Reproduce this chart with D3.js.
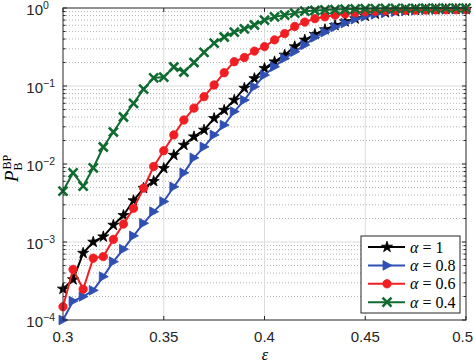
<!DOCTYPE html>
<html>
<head>
<meta charset="utf-8">
<script src="https://cdn.jsdelivr.net/npm/d3@7"></script>
<style>
  body { margin: 0; background: #fff; }
  svg { display: block; }
  .tick-label { font-family: "Liberation Sans", Arial, sans-serif; fill: #262626; }
  .tex { font-family: "Liberation Serif", "Times New Roman", serif; fill: #000; }
</style>
</head>
<body>
<div id="chart"></div>
<script>
// --- Data ---
const epsilon = [0.300, 0.305, 0.310, 0.315, 0.320, 0.325, 0.330, 0.335, 0.340, 0.345,
                 0.350, 0.355, 0.360, 0.365, 0.370, 0.375, 0.380, 0.385, 0.390, 0.395,
                 0.400, 0.405, 0.410, 0.415, 0.420, 0.425, 0.430, 0.435, 0.440, 0.445,
                 0.450, 0.455, 0.460, 0.465, 0.470, 0.475, 0.480, 0.485, 0.490, 0.495, 0.500];

const alpha1 = [2.5e-4, 3.3e-4, 7.2e-4, 1.0e-3, 1.17e-3, 1.65e-3, 2.2e-3, 3.4e-3, 4.9e-3, 6.0e-3,
                8.8e-3, 0.013, 0.0175, 0.0224, 0.0273, 0.0385, 0.049, 0.066, 0.094, 0.125,
                0.169, 0.205, 0.25, 0.32, 0.39, 0.46, 0.53, 0.60, 0.67, 0.73,
                0.79, 0.84, 0.875, 0.905, 0.925, 0.94, 0.95, 0.956, 0.96, 0.963, 0.965];

const alpha08 = [1.0e-4, 1.75e-4, 2.0e-4, 2.4e-4, 3.6e-4, 5.6e-4, 8.1e-4, 1.2e-3, 1.74e-3, 2.45e-3,
                 3.3e-3, 5.1e-3, 7.7e-3, 0.012, 0.0166, 0.0236, 0.0316, 0.047, 0.066, 0.098,
                 0.138, 0.177, 0.226, 0.275, 0.336, 0.42, 0.49, 0.57, 0.64, 0.72,
                 0.78, 0.83, 0.865, 0.895, 0.92, 0.935, 0.948, 0.956, 0.962, 0.967, 0.97];

const alpha06 = [1.48e-4, 4.46e-4, 2.48e-4, 6.2e-4, 6.5e-4, 1.08e-3, 1.7e-3, 2.7e-3, 4.9e-3, 9.3e-3,
                 0.0148, 0.0236, 0.0366, 0.052, 0.073, 0.103, 0.148, 0.205, 0.232, 0.28,
                 0.32, 0.39, 0.47, 0.58, 0.66, 0.73, 0.77, 0.81, 0.84, 0.87,
                 0.895, 0.91, 0.92, 0.928, 0.934, 0.938, 0.942, 0.945, 0.947, 0.949, 0.95];

const alpha04 = [4.5e-3, 7.7e-3, 5.2e-3, 8.9e-3, 0.0165, 0.0257, 0.040, 0.060, 0.091, 0.127,
                 0.130, 0.175, 0.151, 0.20, 0.27, 0.355, 0.425, 0.49, 0.54, 0.605,
                 0.70, 0.77, 0.81, 0.86, 0.91, 0.93, 0.945, 0.955, 0.965, 0.972,
                 0.978, 0.982, 0.985, 0.988, 0.99, 0.991, 0.992, 0.993, 0.994, 0.995, 0.995];

const xTicks = [0.3, 0.35, 0.4, 0.45, 0.5];
const xTickLabels = ['0.3', '0.35', '0.4', '0.45', '0.5'];
const yDecades = [1e-4, 1e-3, 1e-2, 1e-1, 1];
const yExponents = ['\u22124', '\u22123', '\u22122', '\u22121', '0'];

const series = [
    { label: '1',   values: alpha1,  color: '#000000', marker: 'star' },
    { label: '0.8', values: alpha08, color: '#2f4fb2', marker: 'triangle' },
    { label: '0.6', values: alpha06, color: '#f01e23', marker: 'circle' },
    { label: '0.4', values: alpha04, color: '#0f6b30', marker: 'cross' }
];

// --- Setup ---
const W = 474, H = 363;
const margin = { left: 63, right: 8, top: 8, bottom: 43 };
const iw = W - margin.left - margin.right;
const ih = H - margin.top - margin.bottom;

const svg = d3.select('#chart').append('svg').attr('width', W).attr('height', H);
const g = svg.append('g').attr('transform', `translate(${margin.left},${margin.top})`);

const x = d3.scaleLinear().domain([0.3, 0.5]).range([0, iw]);
const y = d3.scaleLog().domain([1e-4, 1]).range([ih, 0]);

// --- Grid ---
const minorY = [];
yDecades.slice(0, -1).forEach(d => { for (let k = 2; k <= 9; k++) minorY.push(d * k); });

g.append('g').selectAll('line').data(minorY).join('line')
    .attr('x1', 0).attr('x2', iw)
    .attr('y1', d => y(d)).attr('y2', d => y(d))
    .attr('stroke', '#b4b4b4').attr('stroke-width', 1).attr('stroke-dasharray', '1,2');

g.append('g').selectAll('line').data(yDecades.slice(1, -1)).join('line')
    .attr('x1', 0).attr('x2', iw)
    .attr('y1', d => y(d)).attr('y2', d => y(d))
    .attr('stroke', '#dcdcdc').attr('stroke-width', 1);

g.append('g').selectAll('line').data(xTicks.slice(1, -1)).join('line')
    .attr('x1', d => x(d)).attr('x2', d => x(d))
    .attr('y1', 0).attr('y2', ih)
    .attr('stroke', '#dcdcdc').attr('stroke-width', 1);

// --- Axes (ticks inward, box) ---
const axisColor = '#262626';
const ticks = g.append('g').attr('stroke', axisColor).attr('stroke-width', 1);
xTicks.forEach(t => {
    ticks.append('line').attr('x1', x(t)).attr('x2', x(t)).attr('y1', ih).attr('y2', ih - 4);
    ticks.append('line').attr('x1', x(t)).attr('x2', x(t)).attr('y1', 0).attr('y2', 4);
});
yDecades.forEach(t => {
    ticks.append('line').attr('x1', 0).attr('x2', 4).attr('y1', y(t)).attr('y2', y(t));
    ticks.append('line').attr('x1', iw).attr('x2', iw - 4).attr('y1', y(t)).attr('y2', y(t));
});
minorY.forEach(t => {
    ticks.append('line').attr('x1', 0).attr('x2', 2.5).attr('y1', y(t)).attr('y2', y(t));
    ticks.append('line').attr('x1', iw).attr('x2', iw - 2.5).attr('y1', y(t)).attr('y2', y(t));
});

// last label kept inside the window, like the reference's clipped "0.5"
g.selectAll('.xlab').data(xTicks).join('text')
    .attr('class', 'tick-label xlab')
    .attr('x', (d, i) => i === xTicks.length - 1 ? W - margin.left - 1 : x(d))
    .attr('y', ih + 22)
    .attr('text-anchor', (d, i) => i === xTicks.length - 1 ? 'end' : 'middle')
    .attr('font-size', 15)
    .text((d, i) => xTickLabels[i]);

g.selectAll('.ylab').data(yDecades).join('text')
    .attr('class', 'tick-label ylab')
    .attr('font-size', 15)
    .attr('x', -20).attr('y', d => y(d) + 7).attr('text-anchor', 'end')
    .text('10');
g.selectAll('.yexp').data(yDecades).join('text')
    .attr('class', 'tick-label yexp')
    .attr('font-size', 10.5)
    .attr('x', -20).attr('y', d => y(d) + 0.5)
    .text((d, i) => yExponents[i]);

// --- Markers ---
const starPath = d3.symbol().type(d3.symbolStar).size(38)();
const triPath = 'M-4,-4.8L5,0L-4,4.8Z';
function drawMarker(sel, type, color) {
    if (type === 'star') {
        sel.append('path').attr('d', starPath).attr('fill', color).attr('stroke', color).attr('stroke-width', 0.8);
    } else if (type === 'triangle') {
        sel.append('path').attr('d', triPath).attr('fill', color).attr('stroke', color).attr('stroke-width', 0.8);
    } else if (type === 'circle') {
        sel.append('circle').attr('r', 4.2).attr('fill', color).attr('stroke', color).attr('stroke-width', 0.8);
    } else {
        sel.append('path').attr('d', 'M-4.5,-4.5L4.5,4.5M-4.5,4.5L4.5,-4.5')
            .attr('fill', 'none').attr('stroke', color).attr('stroke-width', 2.6);
    }
}

// --- Series ---
const line = d3.line().x(d => x(d[0])).y(d => y(d[1]));
series.forEach(s => {
    const pts = epsilon.map((e, i) => [e, s.values[i]]);
    const sg = g.append('g');
    sg.append('path').datum(pts).attr('d', line)
        .attr('fill', 'none').attr('stroke', s.color).attr('stroke-width', 2)
        .attr('stroke-linejoin', 'round');
    sg.selectAll('.m').data(pts).join('g')
        .attr('class', 'm')
        .attr('transform', d => `translate(${x(d[0])},${y(d[1])})`)
        .each(function() { drawMarker(d3.select(this), s.marker, s.color); });
});

// box on top
g.append('rect').attr('x', 0).attr('y', 0).attr('width', iw).attr('height', ih)
    .attr('fill', 'none').attr('stroke', axisColor).attr('stroke-width', 1);

// --- Legend ---
const lg = svg.append('g').attr('transform', 'translate(361,236)');
lg.append('rect').attr('width', 99).attr('height', 77)
    .attr('fill', '#fff').attr('stroke', axisColor).attr('stroke-width', 1);
series.forEach((s, i) => {
    const row = lg.append('g').attr('transform', `translate(0,${11 + i * 18.4})`);
    row.append('line').attr('x1', 7).attr('x2', 44).attr('y1', 0).attr('y2', 0)
        .attr('stroke', s.color).attr('stroke-width', 2);
    const m = row.append('g').attr('transform', 'translate(26,0)');
    drawMarker(m, s.marker, s.color);
    const t = row.append('text').attr('class', 'tex').attr('x', 49).attr('y', 5.5).attr('font-size', 16);
    t.append('tspan').attr('font-style', 'italic').text('\u03b1');
    t.append('tspan').text(' = ' + s.label);
});

// --- Axis labels ---
svg.append('text').attr('class', 'tex')
    .attr('x', 265).attr('y', 360).attr('text-anchor', 'middle')
    .attr('font-size', 16).attr('font-style', 'italic').text('\u03b5');

const yl = svg.append('g').attr('transform', 'translate(18,182) rotate(-90)');
yl.append('text').attr('class', 'tex').attr('x', 0).attr('y', 0)
    .attr('font-size', 19).attr('font-style', 'italic').text('P');
yl.append('text').attr('class', 'tex').attr('x', 11.5).attr('y', 4)
    .attr('font-size', 12).text('B');
yl.append('text').attr('class', 'tex').attr('x', 12.5).attr('y', -7.5)
    .attr('font-size', 12).text('BP');
</script>
</body>
</html>
